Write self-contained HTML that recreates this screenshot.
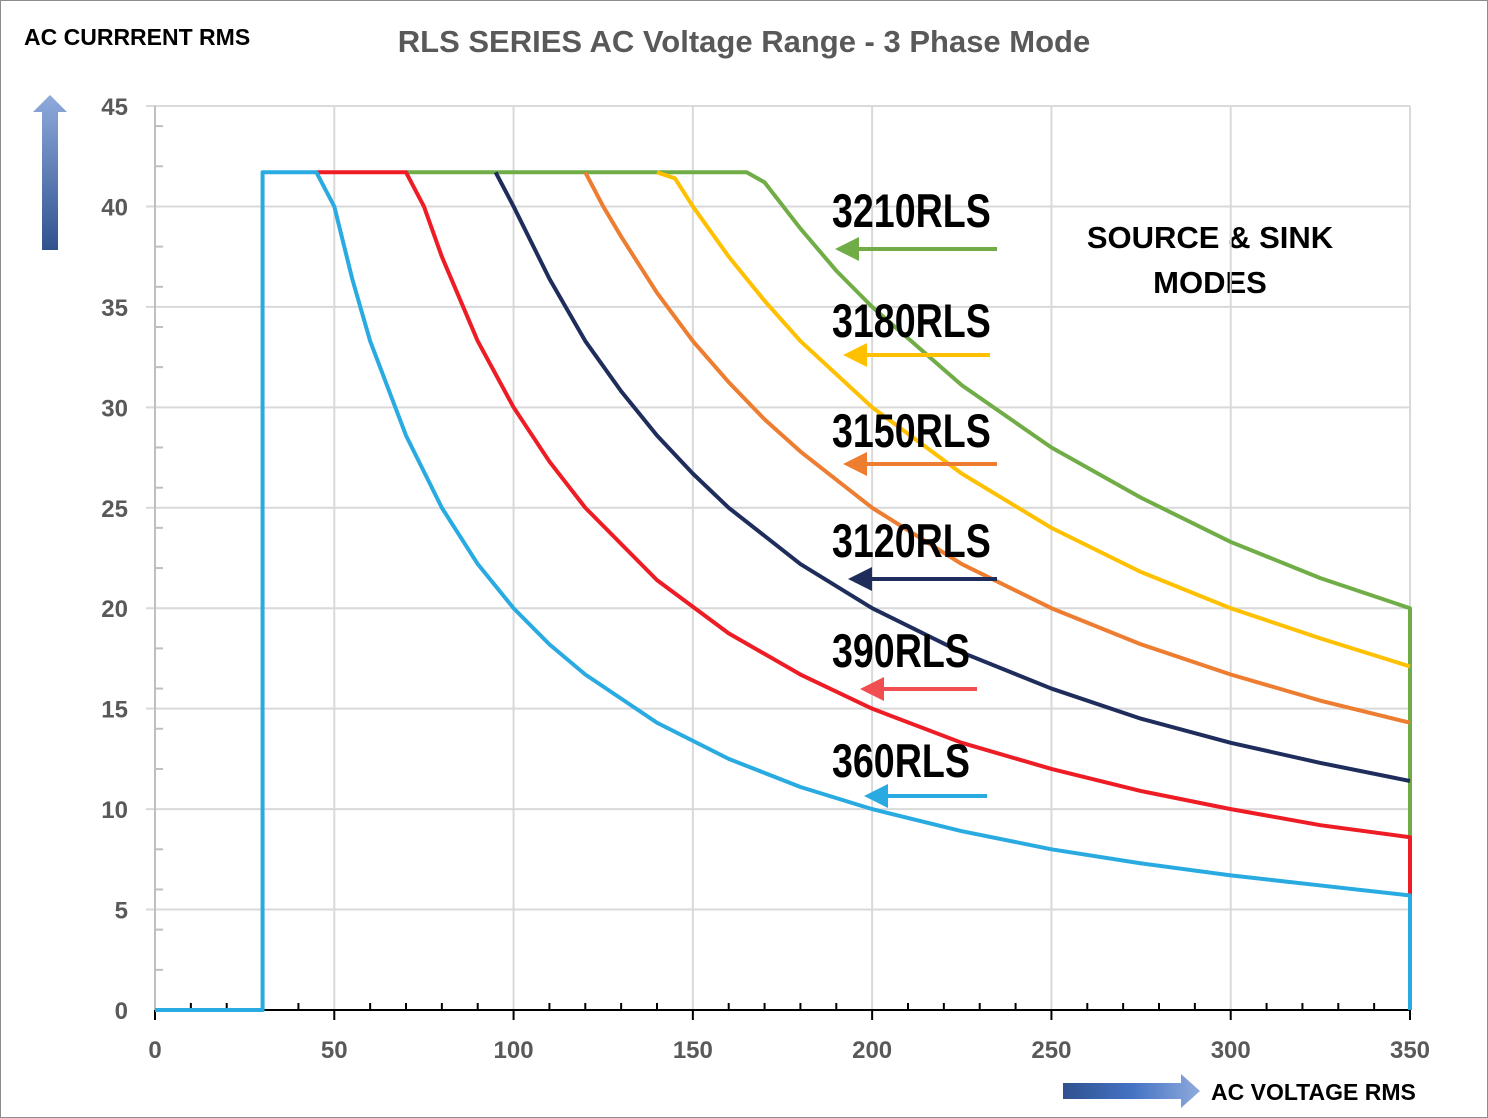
<!DOCTYPE html>
<html><head><meta charset="utf-8"><style>
body{margin:0;background:#fff}
svg{display:block}
text{font-family:"Liberation Sans",sans-serif}
</style></head><body>
<svg id="chart" width="1488" height="1118" xmlns="http://www.w3.org/2000/svg">
<defs>
<linearGradient id="gv" x1="0" y1="1" x2="0" y2="0"><stop offset="0" stop-color="#2f528f"/><stop offset="1" stop-color="#8faadc"/></linearGradient>
<linearGradient id="gh" x1="0" y1="0" x2="1" y2="0"><stop offset="0" stop-color="#2f528f"/><stop offset="0.5" stop-color="#4472c4"/><stop offset="1" stop-color="#8faadc"/></linearGradient>
</defs>
<rect x="0.5" y="0.5" width="1487" height="1117" fill="#fff" stroke="#8c8c8c"/>
<text x="24" y="45" font-size="23" font-weight="bold" fill="#000">AC CURRRENT RMS</text>
<text x="744" y="52" font-size="31" font-weight="bold" fill="#595959" text-anchor="middle">RLS SERIES AC Voltage Range - 3 Phase Mode</text>
<polygon points="42,250 58,250 58,112 67,112 50,95 33,112 42,112" fill="url(#gv)"/>
<polygon points="1063,1083 1181,1083 1181,1074 1200,1091 1181,1108 1181,1099 1063,1099" fill="url(#gh)"/>
<text x="1211" y="1100" font-size="23" font-weight="bold" fill="#000">AC VOLTAGE RMS</text>
<text x="1210" y="248" font-size="31" font-weight="bold" fill="#000" text-anchor="middle">SOURCE &amp; SINK</text>
<text x="1210" y="293" font-size="31" font-weight="bold" fill="#000" text-anchor="middle">MODES</text>
<g id="grid"></g>
<g id="axes"></g>
<g id="series"></g>
<g id="labels"></g>
</svg>
<script>
const xTicks=[0,50,100,150,200,250,300,350];
const yTicks=[0,5,10,15,20,25,30,35,40,45];
const seriesNames=["3210RLS","3180RLS","3150RLS","3120RLS","390RLS","360RLS"];
const seriesColors=["#70ad47","#ffc000","#ed7d31","#1f2d5c","#ee1c25","#29abe2"];
const s3210=[[70,41.7],[165,41.7],[170,41.2],[180,38.9],[190,36.8],[200,35],[225,31.1],[250,28],[275,25.5],[300,23.3],[325,21.5],[350,20],[350,8.6]];
const s3180=[[140,41.7],[145,41.4],[150,40],[160,37.5],[170,35.3],[180,33.3],[200,30],[225,26.7],[250,24],[275,21.8],[300,20],[325,18.5],[350,17.1]];
const s3150=[[120,41.7],[125,40],[130,38.5],[140,35.7],[150,33.3],[160,31.25],[170,29.4],[180,27.8],[200,25],[225,22.2],[250,20],[275,18.2],[300,16.7],[325,15.4],[350,14.3]];
const s3120=[[95,41.7],[100,40],[110,36.4],[120,33.3],[130,30.8],[140,28.6],[150,26.7],[160,25],[180,22.2],[200,20],[225,17.8],[250,16],[275,14.5],[300,13.3],[325,12.3],[350,11.4]];
const s390=[[45,41.7],[70,41.7],[75,40],[80,37.5],[90,33.3],[100,30],[110,27.3],[120,25],[140,21.4],[160,18.75],[180,16.7],[200,15],[225,13.3],[250,12],[275,10.9],[300,10],[325,9.2],[350,8.6],[350,5.7]];
const s360=[[0,0],[30,0],[30,41.7],[45,41.7],[50,40],[55,36.4],[60,33.3],[70,28.6],[80,25],[90,22.2],[100,20],[110,18.2],[120,16.7],[140,14.3],[160,12.5],[180,11.1],[200,10],[225,8.9],[250,8],[275,7.3],[300,6.7],[325,6.2],[350,5.7],[350,0]];
const labelY=[212,322,432,542,652,762];
const arrowSpec=[[835,997,249],[843,990,355],[843,997,464],[848,997,579],[860,977,689],[864,987,796]];

const X=v=>155+v*(1255/350);
const Y=v=>1010-v*(904/45);
const NS="http://www.w3.org/2000/svg";
function mk(tag,attrs,parent){const e=document.createElementNS(NS,tag);for(const k in attrs)e.setAttribute(k,attrs[k]);parent.appendChild(e);return e;}
const grid=document.getElementById('grid'),axes=document.getElementById('axes'),ser=document.getElementById('series'),lab=document.getElementById('labels');
yTicks.forEach(t=>{
 if(t>0){const l=mk('line',{x1:146,x2:1410,y1:Y(t),y2:Y(t),stroke:'#d9d9d9','stroke-width':2},grid);
 
 }
 const tx=mk('text',{x:128,y:Y(t)+9,'font-size':24,'font-weight':'bold',fill:'#595959','text-anchor':'end'},axes);
 tx.textContent=t;
 
 
});
for(let m=2;m<45;m+=2){if(m%5===0)continue;const l=mk('line',{x1:155,x2:163,y1:Y(m),y2:Y(m),stroke:'#bfbfbf','stroke-width':2},axes);
 
 }
xTicks.forEach(t=>{
 if(t>0){const l=mk('line',{x1:X(t),x2:X(t),y1:106,y2:1010,stroke:'#d9d9d9','stroke-width':2},grid);
 
 }
 const tk=mk('line',{x1:X(t),x2:X(t),y1:1010,y2:1020,stroke:'#000','stroke-width':2},axes);
 
 
 const tx=mk('text',{x:X(t),y:1058,'font-size':24,'font-weight':'bold',fill:'#595959','text-anchor':'middle'},axes);
 tx.textContent=t;
 
 
});
for(let m=10;m<350;m+=10){if(m%50===0)continue;const l=mk('line',{x1:X(m),x2:X(m),y1:1003,y2:1010,stroke:'#000','stroke-width':2},axes);
 
 }
const ya=mk('line',{x1:155,x2:155,y1:106,y2:1010,stroke:'#bfbfbf','stroke-width':2},axes);


const xa=mk('line',{x1:155,x2:1410,y1:1010,y2:1010,stroke:'#000','stroke-width':2},axes);


const allSeries=[s3210,s3180,s3150,s3120,s390,s360];
allSeries.forEach((d,i)=>{
 const p=mk('polyline',{points:d.map(q=>X(q[0])+','+Y(q[1])).join(' '),fill:'none',stroke:seriesColors[i],'stroke-width':4,'stroke-linejoin':'round'},ser);
 
 
});
seriesNames.forEach((n,i)=>{
 const t=mk('text',{x:0,y:0,'font-size':47,'font-weight':'bold',fill:'#000',transform:`translate(832,${labelY[i]+15}) scale(0.8,1)`},lab);
 t.textContent=n;
 
 
 const a=arrowSpec[i];
 const l=mk('line',{x1:a[0]+18,x2:a[1],y1:a[2],y2:a[2],stroke:seriesColors[i]==="#ee1c25"?"#f04e51":seriesColors[i],'stroke-width':4},lab);
 
 
 const h=mk('polygon',{points:`${a[0]},${a[2]} ${a[0]+24},${a[2]-12} ${a[0]+24},${a[2]+12}`,fill:seriesColors[i]==="#ee1c25"?"#f04e51":seriesColors[i]},lab);
 
 
});
</script>
</body></html>
